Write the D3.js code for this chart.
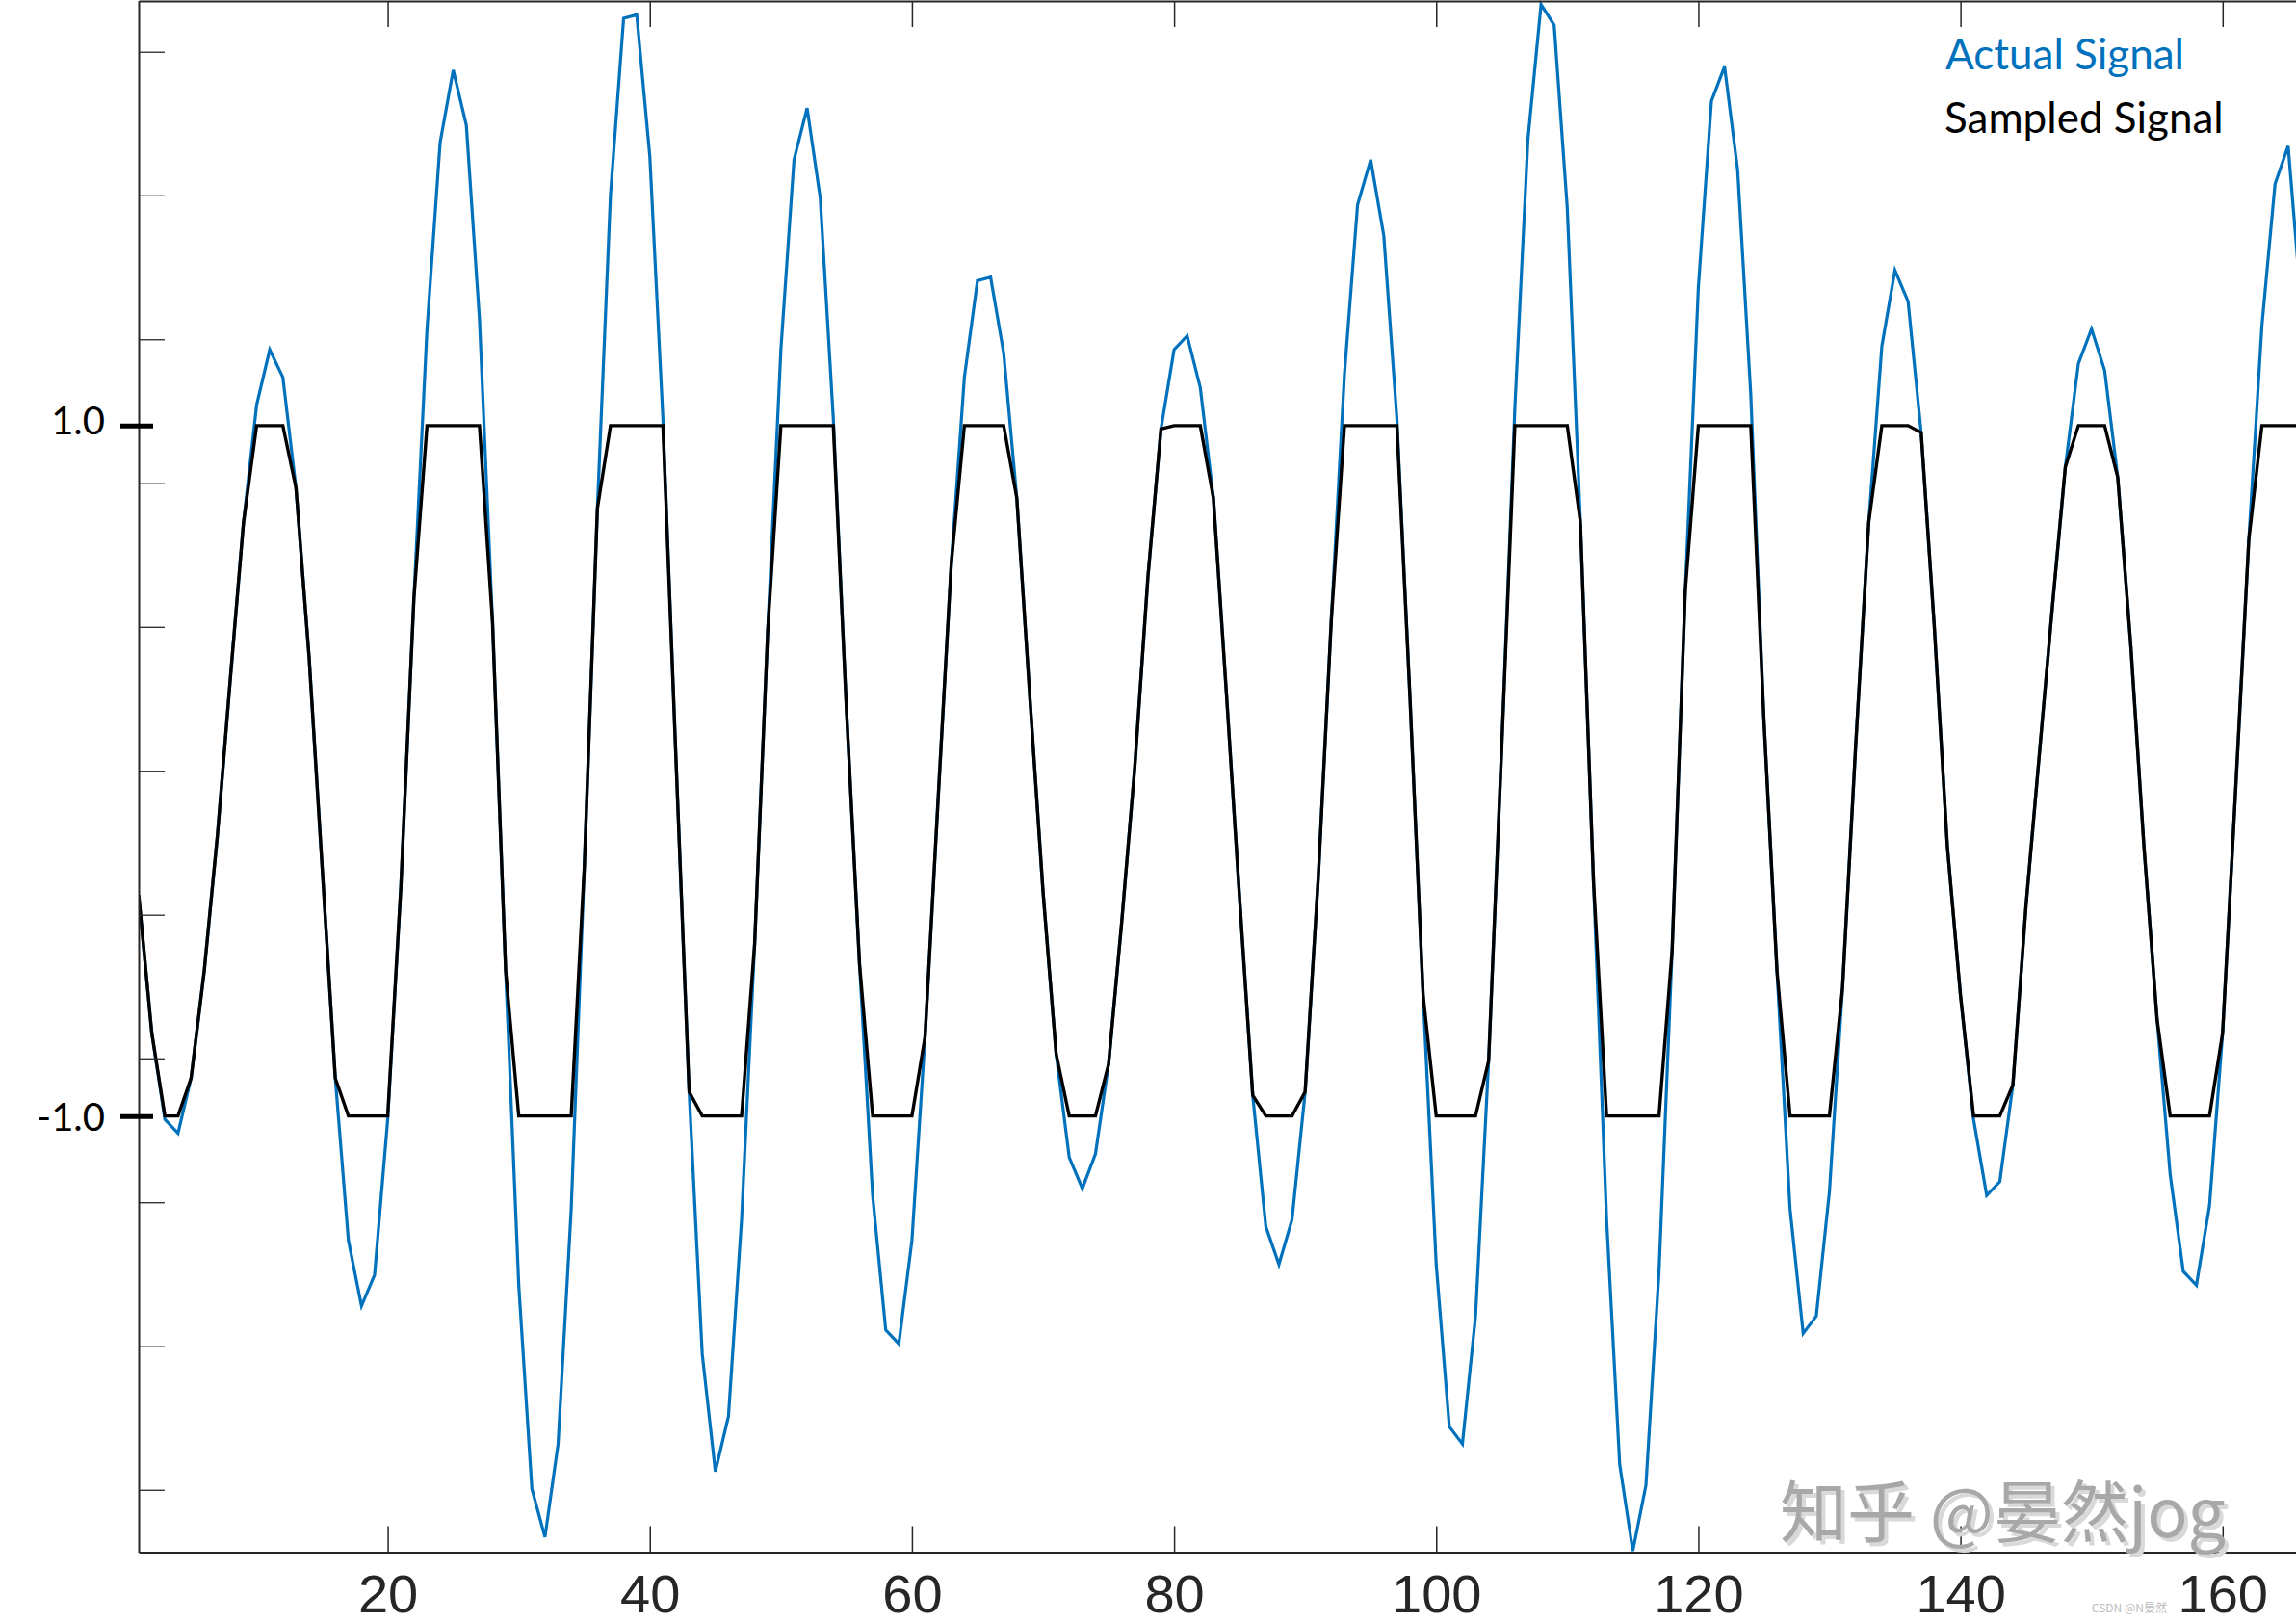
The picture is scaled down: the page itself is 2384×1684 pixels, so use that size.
<!DOCTYPE html>
<html>
<head>
<meta charset="utf-8">
<script src="https://cdn.jsdelivr.net/npm/d3@7"></script>
<style>
  html, body { margin: 0; padding: 0; background: #fff; }
  svg { display: block; }
</style>
</head>
<body>
<svg id="chart" width="2384" height="1684"></svg>
<script>
// ---------------- data ----------------
const sampleIndex = d3.range(1, 167); // n = 1 .. 166

const actualSignal = [
  -0.36, -0.76, -1.01, -1.05, -0.89, -0.58, -0.19, 0.27, 0.72, 1.06,
   1.22,  1.14,  0.82,  0.33, -0.28, -0.89, -1.36, -1.55, -1.46, -1.01,
  -0.34,  0.50,  1.28,  1.82,  2.03,  1.87,  1.31,  0.43, -0.58, -1.49,
  -2.08, -2.22, -1.95, -1.27, -0.28,  0.76,  1.67,  2.18,  2.19,  1.78,
   1.02,  0.03, -0.93, -1.69, -2.03, -1.87, -1.30, -0.50,  0.41,  1.22,
   1.77,  1.92,  1.66,  1.02,  0.18, -0.56, -1.23, -1.62, -1.66, -1.36,
  -0.77, -0.08,  0.60,  1.14,  1.42,  1.43,  1.21,  0.79,  0.21, -0.35,
  -0.82, -1.12, -1.21, -1.11, -0.85, -0.44,  0.01,  0.56,  0.99,  1.22,
   1.26,  1.11,  0.79,  0.22, -0.37, -0.94, -1.32, -1.43, -1.30, -0.93,
  -0.31,  0.44,  1.15,  1.64,  1.77,  1.55,  1.02,  0.21, -0.65, -1.43,
  -1.90, -1.95, -1.58, -0.84,  0.07,  1.05,  1.83,  2.22,  2.16,  1.63,
   0.72, -0.32, -1.30, -2.01, -2.26, -2.07, -1.45, -0.52,  0.52,  1.40,
   1.94,  2.04,  1.74,  1.09,  0.15, -0.58, -1.27, -1.63, -1.58, -1.22,
  -0.63,  0.07,  0.72,  1.23,  1.45,  1.36,  0.98,  0.42, -0.22, -0.65,
  -1.01, -1.23, -1.19, -0.91, -0.39,  0.04,  0.47,  0.88,  1.18,  1.28,
   1.16,  0.85,  0.36, -0.22, -0.72, -1.17, -1.45, -1.49, -1.26, -0.76,
  -0.05,  0.67,  1.29,  1.70,  1.81,  1.35
];

const sampledSignal = [
  -0.36, -0.76, -1.00, -1.00, -0.89, -0.58, -0.19, 0.27, 0.72, 1.00,
   1.00,  1.00,  0.82,  0.33, -0.28, -0.89, -1.00, -1.00, -1.00, -1.00,
  -0.34,  0.50,  1.00,  1.00,  1.00,  1.00,  1.00,  0.43, -0.58, -1.00,
  -1.00, -1.00, -1.00, -1.00, -0.28,  0.76,  1.00,  1.00,  1.00,  1.00,
   1.00,  0.03, -0.93, -1.00, -1.00, -1.00, -1.00, -0.50,  0.41,  1.00,
   1.00,  1.00,  1.00,  1.00,  0.18, -0.56, -1.00, -1.00, -1.00, -1.00,
  -0.77, -0.08,  0.60,  1.00,  1.00,  1.00,  1.00,  0.79,  0.21, -0.35,
  -0.82, -1.00, -1.00, -1.00, -0.85, -0.44,  0.01,  0.56,  0.99,  1.00,
   1.00,  1.00,  0.79,  0.22, -0.37, -0.94, -1.00, -1.00, -1.00, -0.93,
  -0.31,  0.44,  1.00,  1.00,  1.00,  1.00,  1.00,  0.21, -0.65, -1.00,
  -1.00, -1.00, -1.00, -0.84,  0.07,  1.00,  1.00,  1.00,  1.00,  1.00,
   0.72, -0.32, -1.00, -1.00, -1.00, -1.00, -1.00, -0.52,  0.52,  1.00,
   1.00,  1.00,  1.00,  1.00,  0.15, -0.58, -1.00, -1.00, -1.00, -1.00,
  -0.63,  0.07,  0.72,  1.00,  1.00,  1.00,  0.98,  0.42, -0.22, -0.65,
  -1.00, -1.00, -1.00, -0.91, -0.39,  0.04,  0.47,  0.88,  1.00,  1.00,
   1.00,  0.85,  0.36, -0.22, -0.72, -1.00, -1.00, -1.00, -1.00, -0.76,
  -0.05,  0.67,  1.00,  1.00,  1.00,  1.00
];

const xTickValues = [20, 40, 60, 80, 100, 120, 140, 160];
const yLabelTicks = [1.0, -1.0];
const yLabelText = ["1.0", "-1.0"];
const yMinorTicks = [-2.083, -1.667, -1.25, -0.833, -0.417, 0, 0.417, 0.833, 1.25, 1.667, 2.083];
const seriesNames = ["Actual Signal", "Sampled Signal"];
const seriesColors = ["#0072BD", "#000000"];
const watermark = "知乎 @晏然jog";
const smallMark = "CSDN @N晏然";

// ---------------- layout ----------------
const plot = { left: 144, top: 0.5, right: 2384, bottom: 1611.5 };

const x = d3.scaleLinear().domain([1, 165.6]).range([plot.left, plot.right]);
const y = d3.scaleLinear().domain([-2.2636, 2.2315]).range([plot.bottom, plot.top]);

const svg = d3.select("#chart");
const axisColor = "#262626";

svg.append("defs").append("clipPath").attr("id", "plotClip")
  .append("rect")
  .attr("x", plot.left).attr("y", 0)
  .attr("width", plot.right - plot.left).attr("height", plot.bottom);

// ---------------- lines ----------------
const line = d3.line().x(d => x(d[0])).y(d => y(d[1]));
const actualPts = sampleIndex.map((n, i) => [n, actualSignal[i]]);
const sampledPts = sampleIndex.map((n, i) => [n, sampledSignal[i]]);

const g = svg.append("g").attr("clip-path", "url(#plotClip)");
g.append("path").datum(actualPts)
  .attr("d", line).attr("fill", "none")
  .attr("stroke", seriesColors[0]).attr("stroke-width", 3.2)
  .attr("stroke-linejoin", "miter");
g.append("path").datum(sampledPts)
  .attr("d", line).attr("fill", "none")
  .attr("stroke", seriesColors[1]).attr("stroke-width", 3.4)
  .attr("stroke-linejoin", "miter");

// ---------------- axes ----------------
const xAxisBottom = d3.axisBottom(x).tickValues(xTickValues).tickSize(-27).tickPadding(0).tickSizeOuter(0);
const gxb = svg.append("g").attr("transform", `translate(0,${plot.bottom})`).call(xAxisBottom);
gxb.select(".domain").attr("stroke", axisColor).attr("stroke-width", 2);
gxb.selectAll(".tick line").attr("stroke", axisColor).attr("stroke-width", 1.5);
gxb.selectAll(".tick text")
  .attr("y", 62).attr("dy", 0)
  .attr("fill", axisColor)
  .style("font-family", "'Liberation Sans', Arial, sans-serif")
  .style("font-size", "56px");

const xAxisTop = d3.axisTop(x).tickValues(xTickValues).tickSize(-27).tickFormat("").tickSizeOuter(0);
const gxt = svg.append("g").attr("transform", `translate(0,${plot.top + 0.5})`).call(xAxisTop);
gxt.select(".domain").attr("stroke", axisColor).attr("stroke-width", 2);
gxt.selectAll(".tick line").attr("stroke", axisColor).attr("stroke-width", 1.5);

const yAxisMinor = d3.axisLeft(y).tickValues(yMinorTicks).tickSize(-27).tickFormat("").tickSizeOuter(0);
const gym = svg.append("g").attr("transform", `translate(${plot.left},0)`).call(yAxisMinor);
gym.select(".domain").attr("stroke", axisColor).attr("stroke-width", 2);
gym.selectAll(".tick line").attr("stroke", axisColor).attr("stroke-width", 1.3);

const yAxisMain = d3.axisLeft(y).tickValues(yLabelTicks)
  .tickFormat((d, i) => yLabelText[i]).tickSize(19).tickPadding(16).tickSizeOuter(0);
const gy = svg.append("g").attr("transform", `translate(${plot.left},0)`).call(yAxisMain);
gy.select(".domain").remove();
gy.selectAll(".tick line").attr("x1", 15).attr("x2", -19)
  .attr("stroke", "#000").attr("stroke-width", 5);
gy.selectAll(".tick text")
  .attr("fill", "#000")
  .attr("dy", (d) => d > 0 ? "0.22em" : "0.36em")
  .style("font-family", "Lato, 'Open Sans', sans-serif")
  .style("font-size", "40px");

// ---------------- legend ----------------
const legend = svg.append("g").style("font-family", "Lato, 'Open Sans', sans-serif").style("font-size", "44px");
legend.append("text").attr("x", 2020).attr("y", 72).attr("fill", seriesColors[0]).text(seriesNames[0]);
legend.append("text").attr("x", 2019).attr("y", 138).attr("fill", seriesColors[1]).text(seriesNames[1]);

// ---------------- watermark ----------------
const wm = svg.append("g").style("font-family", "'Noto Sans CJK SC', sans-serif").style("font-size", "70px");
wm.append("text").attr("x", 1852).attr("y", 1600).attr("fill", "#d9d9d9").text(watermark);
wm.append("text").attr("x", 1848).attr("y", 1596).attr("fill", "#a8a8a8").text(watermark);
svg.append("text").attr("x", 2250).attr("y", 1674).attr("text-anchor", "end")
  .attr("fill", "#bdbdbd").style("font-family", "'Noto Sans CJK SC', sans-serif").style("font-size", "12px")
  .text(smallMark);
</script>
</body>
</html>
